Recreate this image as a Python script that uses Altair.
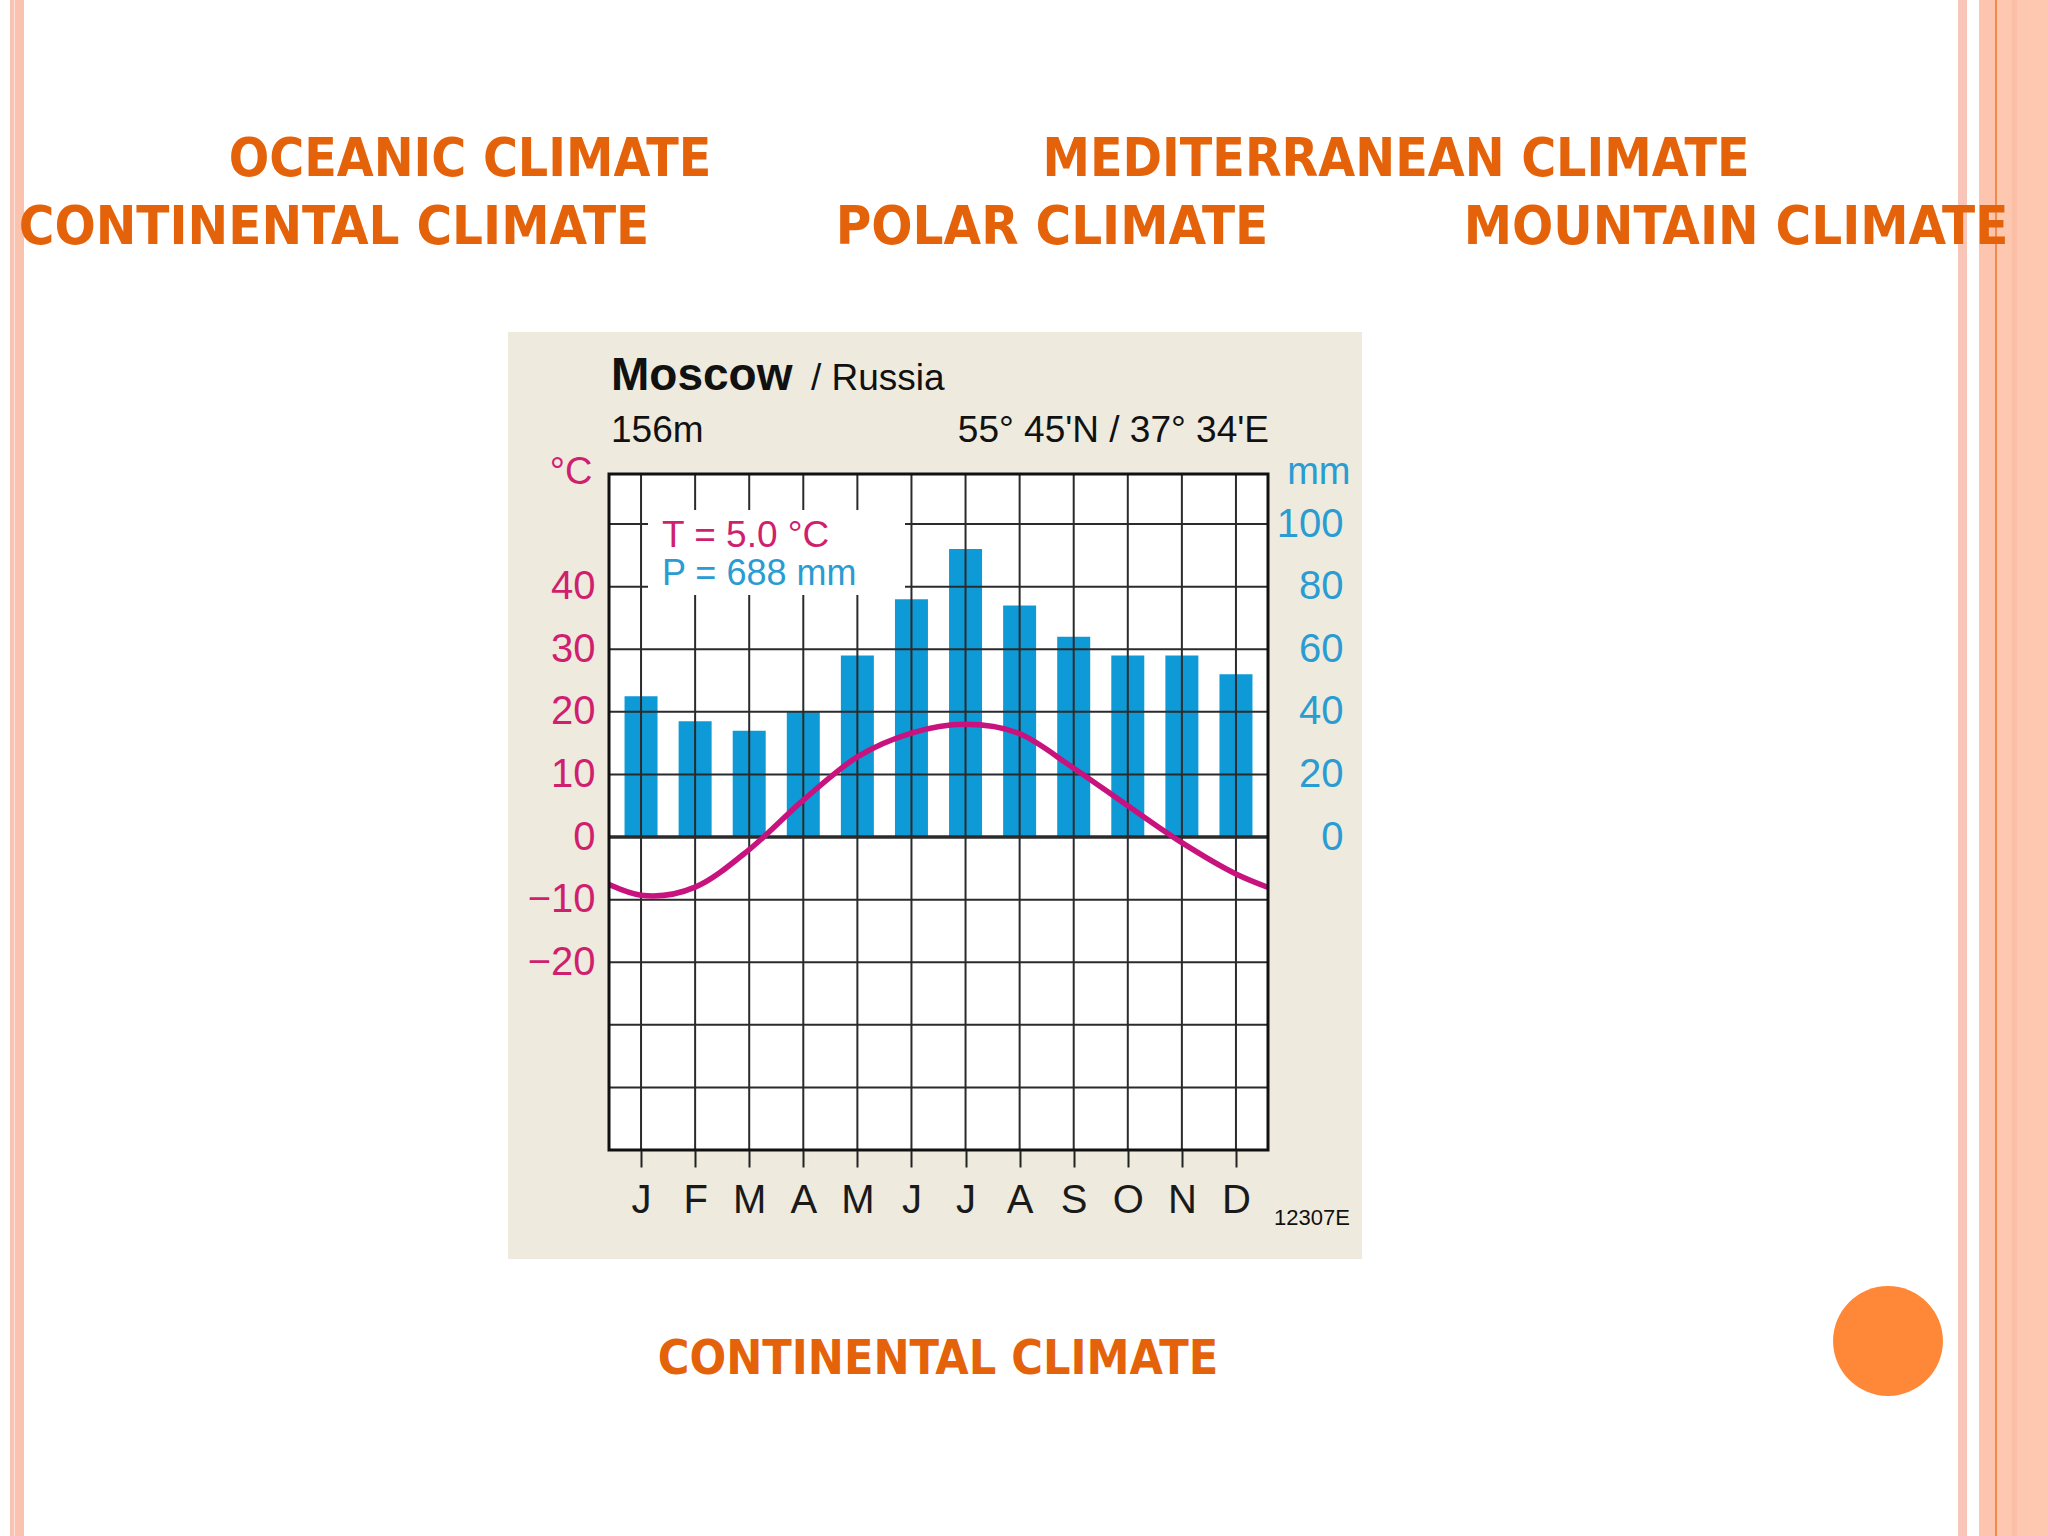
import altair as alt
import pandas as pd
import numpy as np

# ---------------- data ----------------
months = ["J", "F", "M", "A", "M", "J", "J", "A", "S", "O", "N", "D"]
month_idx = list(range(1, 13))
temp_c = [-9.3, -8.0, -2.0, 5.9, 12.8, 16.6, 18.0, 16.5, 11.0, 5.0, -0.9, -5.9]
precip_mm = [45, 37, 34, 40, 58, 76, 92, 74, 64, 58, 58, 52]
temp_ticks = [-20, -10, 0, 10, 20, 30, 40]
precip_ticks = [0, 20, 40, 60, 80, 100]
grid_temps = [-40, -30, -20, -10, 0, 10, 20, 30, 40, 50]
temp_domain = [-50, 58]
precip_domain = [-100, 116]

station = "Moscow"
country = "/ Russia"
elevation = "156m"
coords = "55° 45'N / 37° 34'E"
code = "12307E"
headings_row1 = ["OCEANIC CLIMATE", "MEDITERRANEAN CLIMATE"]
headings_row2 = ["CONTINENTAL CLIMATE", "POLAR CLIMATE", "MOUNTAIN CLIMATE"]
caption = "CONTINENTAL CLIMATE"

t_text = f"T = {np.mean(temp_c):.1f} °C"
p_text = f"P = {sum(precip_mm):.0f} mm"

# ---------------- styles ----------------
W, H = 659, 676
OX, OY = 609, 474          # plot origin on the page
MAG = "#CF1F6E"
CURVE = "#C8127E"
BLUE_TXT = "#2A9CD2"
BLUE_BAR = "#0E9AD7"
GRID = "#2b2b2b"
ORANGE = "#E4630A"
BEIGE = "#EEEADE"
FONT = "Liberation Sans"
HFONT = "DejaVu Sans Condensed, DejaVu Sans, sans-serif"

xscale = alt.Scale(domain=[0.5, 12.5], nice=False, zero=False)
tscale = alt.Scale(domain=temp_domain, nice=False, zero=False)
pscale = alt.Scale(domain=precip_domain, nice=False, zero=False)

month_js = "[" + ",".join(f"'{m}'" for m in months) + "]"

x_axis = alt.Axis(
    values=month_idx, labelExpr=f"{month_js}[datum.value - 1]",
    title=None, domain=False, grid=False, ticks=True, tickSize=17,
    tickWidth=2, tickColor="#222222", labelFont=FONT, labelFontSize=40,
    labelColor="#1a1a1a", labelPadding=13, labelFlush=False,
    labelOverlap=False, zindex=1)

one = pd.DataFrame({"k": [0]})


def rect(x, x2, y, y2, **kw):
    return alt.Chart(one).mark_rect(**kw).encode(
        x=alt.value(x - OX), x2=alt.value(x2 - OX),
        y=alt.value(y - OY), y2=alt.value(y2 - OY))


def label(s, x, y, **kw):
    return alt.Chart(pd.DataFrame({"s": [s]})).mark_text(**kw).encode(
        text="s:N", x=alt.value(x - OX), y=alt.value(y - OY))


# page decorations
stripes = [
    rect(10, 24, 0, 1536, color="#F9C3B0"),
    rect(14, 15, 0, 1536, color="#FCE2D8"),
    rect(1958, 1967, 0, 1536, color="#F8C6B9"),
    rect(1979, 1995, 0, 1536, color="#FDC5AE"),
    rect(1995, 1997, 0, 1536, color="#F28A4A"),
    rect(1997, 2048, 0, 1536, color="#FEC8B0"),
    rect(2012, 2017, 0, 1536, color="#FBBFA6"),
]

beige = rect(508, 1362, 332, 1259, color=BEIGE)
plot_bg = rect(OX, OX + W, OY, OY + H, color="white")

df = pd.DataFrame({"m": month_idx, "p": precip_mm, "t": temp_c, "mon": months})

bars = alt.Chart(df).mark_bar(size=33, color=BLUE_BAR).encode(
    x=alt.X("m:Q", scale=xscale, axis=x_axis),
    y=alt.Y("p:Q", scale=pscale, axis=alt.Axis(
        orient="right", values=precip_ticks, format="d", domain=False,
        grid=False, ticks=False, tickSize=0, labelAlign="right",
        labelPadding=75, labelFont=FONT, labelFontSize=40,
        labelColor=BLUE_TXT, labelOverlap=False, title="mm",
        titleAngle=0, titleAlign="right", titleBaseline="alphabetic",
        titleX=1350 - (OX + W), titleY=483 - OY, titleFont=FONT,
        titleFontSize=38, titleFontWeight="normal", titleColor=BLUE_TXT,
        zindex=1)),
    y2=alt.Y2(datum=0),
)

vgrid = alt.Chart(pd.DataFrame({"m": month_idx})).mark_rule(
    color=GRID, strokeWidth=2).encode(x=alt.X("m:Q", scale=xscale, axis=x_axis))

hgrid = alt.Chart(pd.DataFrame({"v": grid_temps})).mark_rule(color=GRID).encode(
    y=alt.Y("v:Q", scale=tscale, axis=None),
    strokeWidth=alt.condition("datum.v == 0", alt.value(3.5), alt.value(2)),
)

curve_df = pd.DataFrame({
    "m": [0] + month_idx + [13],
    "t": [temp_c[-1]] + temp_c + [temp_c[0]],
})
curve = alt.Chart(curve_df).mark_line(
    color=CURVE, strokeWidth=5.5, interpolate="cardinal", clip=True).encode(
    x=alt.X("m:Q", scale=xscale, axis=x_axis),
    y=alt.Y("t:Q", scale=tscale, axis=alt.Axis(
        orient="left", values=temp_ticks, format="d", domain=False,
        grid=False, ticks=False, tickSize=0, labelPadding=14,
        labelFont=FONT, labelFontSize=40, labelColor=MAG,
        labelOverlap=False, title="°C", titleAngle=0, titleAlign="right",
        titleBaseline="alphabetic", titleX=592 - OX, titleY=483 - OY,
        titleFont=FONT, titleFontSize=38, titleFontWeight="normal",
        titleColor=MAG, zindex=1)),
)

frame = rect(OX, OX + W, OY, OY + H, fillOpacity=0, stroke="#111111",
             strokeWidth=3)

legend_box = rect(648, 905, 510, 595, color="white")
legend_t = label(t_text, 662, 547, align="left", baseline="alphabetic",
                 font=FONT, fontSize=37, color=MAG)
legend_p = label(p_text, 662, 585, align="left", baseline="alphabetic",
                 font=FONT, fontSize=36, color=BLUE_TXT)

title_texts = [
    label(station, 611, 390, align="left", baseline="alphabetic", font=FONT,
          fontSize=46, fontWeight="bold", color="#111111"),
    label(country, 811, 390, align="left", baseline="alphabetic", font=FONT,
          fontSize=37, color="#111111"),
    label(elevation, 611, 442, align="left", baseline="alphabetic", font=FONT,
          fontSize=37, color="#111111"),
    label(coords, 1269, 442, align="right", baseline="alphabetic", font=FONT,
          fontSize=37, color="#111111"),
    label(code, 1274, 1225, align="left", baseline="alphabetic", font=FONT,
          fontSize=22, color="#111111"),
]

head_kw = dict(align="center", baseline="alphabetic", font=HFONT,
               fontWeight="bold", color=ORANGE)
headings = [
    label(headings_row1[0], 470, 176, fontSize=53, **head_kw),
    label(headings_row1[1], 1396, 176, fontSize=53, **head_kw),
    label(headings_row2[0], 334, 244, fontSize=54, **head_kw),
    label(headings_row2[1], 1052, 244, fontSize=54, **head_kw),
    label(headings_row2[2], 1736, 244, fontSize=54, **head_kw),
    label(caption, 938, 1374, fontSize=48, **head_kw),
]

dot = alt.Chart(one).mark_circle(size=np.pi * 62 ** 2, color="#FF8838",
                                 opacity=1).encode(
    x=alt.value(1888 - OX), y=alt.value(1341 - OY))

layers = (stripes + [beige, plot_bg, bars, vgrid, hgrid, curve, frame,
                     legend_box, legend_t, legend_p] + title_texts
          + headings + [dot])

chart = alt.layer(*layers).resolve_scale(y="independent").properties(
    width=W, height=H,
    autosize=alt.AutoSizeParams(type="none"),
    padding={"left": OX, "top": OY, "right": 2048 - OX - W,
             "bottom": 1536 - OY - H},
).configure(background="white").configure_view(strokeWidth=0)

chart.save("out.html", embed_options={"renderer": "svg", "actions": False})
